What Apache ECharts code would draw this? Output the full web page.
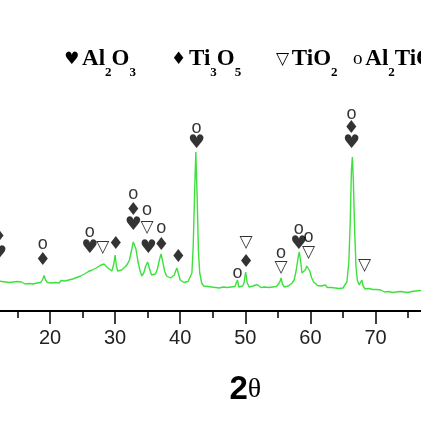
<!DOCTYPE html>
<html>
<head>
<meta charset="utf-8">
<script src="https://cdn.jsdelivr.net/npm/echarts@6/dist/echarts.min.js"></script>
<style>html,body{margin:0;padding:0;background:#fff}#c{width:421px;height:421px}</style>
</head>
<body>
<div id="c"></div>
<script>
// XRD pattern: 2θ (deg) and intensity (a.u.)
const twoTheta = [12.0,12.3,12.6,12.9,13.2,13.5,13.8,14.1,14.4,14.7,15.0,15.3,15.6,15.9,16.2,16.5,16.8,17.1,17.4,17.7,18.0,18.3,18.6,18.9,19.1,19.3,19.6,19.9,20.2,20.5,20.8,21.1,21.4,21.7,22.0,22.3,22.6,22.9,23.2,23.5,23.8,24.1,24.4,24.7,25.0,25.3,25.6,25.9,26.2,26.5,26.8,27.1,27.4,27.7,28.0,28.3,28.6,28.9,29.2,29.5,29.8,30.0,30.2,30.4,30.7,31.0,31.3,31.6,31.9,32.2,32.5,32.8,33.0,33.2,33.5,33.8,34.1,34.4,34.7,35.0,35.3,35.6,35.9,36.2,36.5,36.8,37.05,37.3,37.6,37.9,38.2,38.5,38.8,39.1,39.3,39.5,39.7,40.0,40.3,40.6,40.9,41.2,41.5,41.8,42.0,42.2,42.4,42.6,42.8,43.0,43.3,43.6,43.9,44.2,44.5,44.8,45.1,45.4,45.7,46.0,46.3,46.6,46.9,47.2,47.5,47.8,48.1,48.4,48.6,48.8,49.0,49.3,49.6,49.8,50.05,50.3,50.6,50.9,51.2,51.5,51.8,52.1,52.4,52.7,53.0,53.3,53.6,53.9,54.2,54.5,54.8,55.1,55.3,55.5,55.7,56.0,56.3,56.6,56.9,57.2,57.5,57.8,58.1,58.3,58.5,58.7,58.9,59.2,59.45,59.65,59.9,60.2,60.5,60.8,61.1,61.4,61.7,62.0,62.3,62.6,62.9,63.2,63.5,63.8,64.1,64.4,64.7,65.0,65.3,65.6,65.9,66.1,66.3,66.45,66.6,66.8,67.0,67.2,67.5,67.7,67.9,68.1,68.4,68.7,69.0,69.3,69.6,69.9,70.2,70.5,70.8,71.1,71.4,71.7,72.0,72.3,72.6,72.9,73.2,73.5,73.8,74.1,74.4,74.7,75.0,75.3,75.6,75.9,76.2,76.5,76.8,77.1,77.4];
const intensity = [300,310,295,305,290,300,285,300,290,280,295,275,290,280,270,285,275,290,270,285,280,295,285,320,355,310,285,295,280,300,285,295,280,305,290,300,285,310,300,320,310,335,325,350,345,370,360,395,385,410,400,430,415,455,440,470,450,430,420,400,470,560,450,400,420,410,430,445,470,510,600,690,690,620,500,410,350,380,450,490,420,360,340,370,420,510,570,500,400,350,340,330,340,360,400,430,380,310,295,285,300,295,310,380,650,1150,1590,1150,600,380,280,250,235,245,225,240,220,235,215,230,220,240,225,235,220,240,230,245,240,310,240,230,250,280,390,280,240,230,250,240,265,250,235,250,240,255,235,250,240,255,245,260,290,330,270,240,230,250,265,280,310,400,530,590,500,380,370,410,450,460,400,330,290,270,255,270,250,245,260,235,225,235,220,230,215,225,215,230,240,290,480,850,1400,1540,1300,800,450,310,260,250,310,250,220,210,225,205,215,200,215,195,210,200,190,210,195,205,185,200,190,210,195,205,190,200,185,205,195,210,200,190,205,195,200];

// Phase markers above the peaks: position (2θ), height (a.u.) and phase symbol
const markX   = [12.1,12.1,18.9,18.9,26.1,26.1,28.1,30.1,32.8,32.8,32.8,34.9,34.9,35.1,37.1,37.1,39.7,42.5,42.5,48.8,50.1,50.1,55.5,55.5,58.2,58.2,59.7,59.7,66.3,66.3,66.3,68.3];
const markY   = [740,570,670,503,793,627,630,670,1170,1010,860,1010,837,627,827,653,537,1827,1677,383,683,487,577,437,820,670,737,583,1970,1827,1677,453];
const markSym = ['d','h','o','d','o','h','t','d','o','d','h','o','t','h','o','d','d','o','h','o','t','d','o','t','o','h','o','t','o','d','h','t'];

// Axis ticks / labels
const xMin = 10, xMax = 90, xStep = 10;
const xLabelsShown = [20,30,40,50,60,70];

// Legend entries
const legendItems = [
  {sym:'h', parts:[['b','Al'],['s','2'],['b','O'],['s','3']]},
  {sym:'d', parts:[['b','Ti'],['s','3'],['b','O'],['s','5']]},
  {sym:'t', parts:[['b','TiO'],['s','2']]},
  {sym:'o', parts:[['b','Al'],['s','2'],['b','TiO'],['s','5']]}
];
const symChar = {h:'♥', d:'♦', t:'▽', o:'o'};

const chart = echarts.init(document.getElementById('c'), null, {renderer:'canvas'});

const symRich = {
  h:{fontFamily:'DejaVu Sans', fontSize:19, color:'#000'},
  d:{fontFamily:'DejaVu Sans', fontSize:18, color:'#000'},
  t:{fontFamily:'DejaVu Sans', fontSize:17, color:'#000'},
  o:{fontFamily:'Liberation Sans', fontSize:18, color:'#000'}
};

const markData = markX.map((x,i)=>({value:[x, markY[i]], sym:markSym[i]}));

const legendX = [64, 171, 276, 353];
const graphics = legendItems.map((it, i) => {
  let txt = '{' + it.sym + '|' + symChar[it.sym] + '}{sp| }';
  it.parts.forEach(p => { txt += '{' + p[0] + '|' + p[1] + '}'; });
  return {
    type:'text', left: legendX[i], top: 40,
    style:{
      text: txt,
      rich:{
        h:{fontFamily:'DejaVu Sans', fontSize:17, fill:'#000'},
        d:{fontFamily:'DejaVu Sans', fontSize:17, fill:'#000'},
        t:{fontFamily:'DejaVu Sans', fontSize:17, fill:'#000'},
        o:{fontFamily:'Liberation Serif', fontSize:19, fill:'#000'},
        sp:{fontSize:10},
        b:{fontFamily:'Liberation Serif', fontWeight:'bold', fontSize:23, fill:'#000', lineHeight:24},
        s:{fontFamily:'Liberation Serif', fontWeight:'bold', fontSize:13, fill:'#000', lineHeight:14, padding:[26,0,0,0]}
      }
    }
  };
});

chart.setOption({
  backgroundColor:'#fff',
  animation:false,
  grid:{left:-15.1, right:-84.7, top:0, bottom:110, containLabel:false, outerBoundsMode:'none'},
  xAxis:{
    type:'value', min:xMin, max:xMax, interval:xStep,
    axisLine:{lineStyle:{color:'#000', width:2}},
    axisTick:{show:true, length:13, lineStyle:{color:'#000', width:1.5}},
    minorTick:{show:true, splitNumber:2, length:7, lineStyle:{color:'#000', width:1.5}},
    splitLine:{show:false},
    axisLabel:{
      margin:17, fontSize:20, color:'#222',
      fontFamily:'Liberation Sans Narrow, Liberation Sans',
      formatter: v => xLabelsShown.indexOf(v) >= 0 ? String(v) : ''
    },
    name:'{a|2}{b|θ}', nameLocation:'middle', nameGap:62,
    nameTextStyle:{
      rich:{
        a:{fontFamily:'Liberation Sans Narrow, Liberation Sans', fontWeight:'bold', fontSize:33, color:'#000'},
        b:{fontFamily:'Liberation Serif', fontSize:28, color:'#000'}
      }
    }
  },
  yAxis:{type:'value', min:0, max:3110, show:false},
  series:[
    {
      type:'line', data: twoTheta.map((x,i)=>[x, intensity[i]]),
      showSymbol:false, symbol:'none',
      lineStyle:{color:'#3ee03e', width:1.4}, clip:false, silent:true
    },
    {
      type:'scatter', data: markData, symbolSize:0, silent:true, clip:false,
      label:{
        show:true, position:'inside',
        formatter: p => '{' + p.data.sym + '|' + symChar[p.data.sym] + '}',
        rich: symRich
      }
    }
  ],
  graphic: graphics
});
</script>
</body>
</html>
